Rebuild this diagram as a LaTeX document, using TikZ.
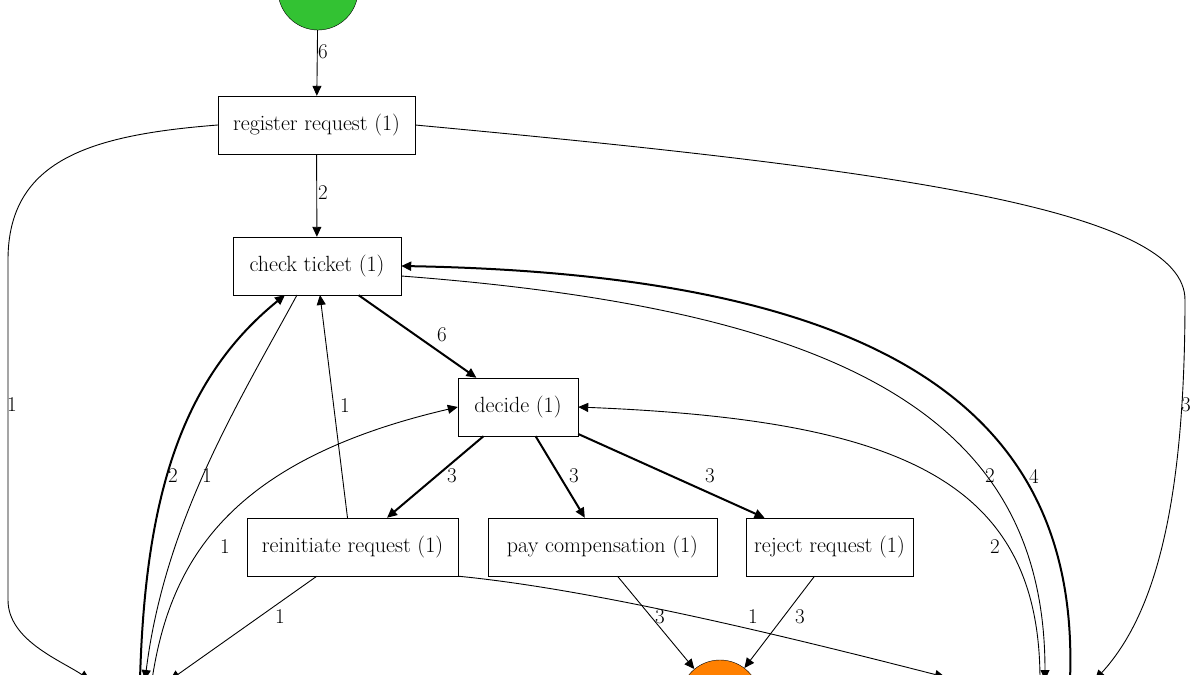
\documentclass[tikz,border=0pt]{standalone}
\usetikzlibrary{arrows.meta}
\begin{document}
\begin{tikzpicture}[x=1pt,y=-1pt,
  box/.style={draw,fill=white,font=\fontsize{22}{26}\selectfont,minimum height=58pt,inner sep=0pt},
  e/.style={-{Triangle[length=10pt,width=9pt]},line width=0.9pt},
  ek/.style={-{Triangle[length=10pt,width=9pt]},line width=2pt},
  lbl/.style={font=\fontsize{21}{24}\selectfont,inner sep=0pt}]
\useasboundingbox (0,0) rectangle (1200,675);
\clip (0,0) rectangle (1200,675);
\node[circle,draw,fill=green!70!black!80,minimum size=80pt,inner sep=0pt] (start) at (318,-10) {};
\node[circle,draw,fill=orange,minimum size=80pt,inner sep=0pt] (end) at (720,700) {};
\node[box,minimum width=197pt] (reg) at (316.5,125) {register request (1)};
\node[box,minimum width=168pt] (chk) at (317,266) {check ticket (1)};
\node[box,minimum width=120pt] (dec) at (518,407) {decide (1)};
\node[box,minimum width=211pt] (rei) at (352.5,547) {reinitiate request (1)};
\node[box,minimum width=229pt] (pay) at (602.5,547) {pay compensation (1)};
\node[box,minimum width=167pt] (rej) at (829.5,547) {reject request (1)};
\coordinate (b1) at (90,680);
\coordinate (b2) at (140,680);
\coordinate (b3) at (170,680);
\coordinate (b4) at (945,677);
\coordinate (b5) at (1045,680);
\coordinate (b6) at (1095,680);
\draw[e] (start) -- (reg);
\node[lbl] (l1) at (323,52) {6};
\draw[e] (reg) -- (chk);
\node[lbl] (l2) at (323,193) {2};
\draw[e] (reg.west) .. controls (90,135) and (8,160) .. (8,260) -- (8,600) .. controls (8,640) and (60,660) .. (b1);
\node[lbl] (l3) at (12,405) {1};
\draw[e] (reg.east) .. controls (900,170) and (1185,210) .. (1185,300) .. controls (1185,520) and (1150,620) .. (b6);
\node[lbl] (l4) at (1186,405) {3};
\draw[ek] (chk) -- (dec);
\node[lbl] (l5) at (442,335) {6};
\draw[ek] (dec) -- (rei);
\node[lbl] (l6) at (452,476) {3};
\draw[ek] (dec) -- (pay);
\node[lbl] (l7) at (574,476) {3};
\draw[ek] (dec) -- (rej);
\node[lbl] (l8) at (710,476) {3};
\draw[e] (rei.north) ++(-5,0) coordinate(r1) (r1) -- (320,295);
\node[lbl] (l9) at (345,406) {1};
\draw[ek] (b2) .. controls (145,500) and (180,380) .. (285,295);
\node[lbl] (l10) at (173,476) {2};
\draw[e] (297,295) .. controls (240,400) and (165,520) .. (145,680);
\node[lbl] (l11) at (207,476) {1};
\draw[e] (152,680) .. controls (170,560) and (230,460) .. (dec.west);
\node[lbl] (l12) at (225,547) {1};
\draw[e] (rei.south west)++(70,0) coordinate(r2) (r2) -- (b3);
\node[lbl] (l13) at (280,617) {1};
\draw[e] (rei.south east) .. controls (600,590) and (800,640) .. (b4);
\node[lbl] (l14) at (753,617) {1};
\draw[e] (chk.east)++(0,10) coordinate(c1) (c1) .. controls (850,310) and (1045,420) .. (b5);
\node[lbl] (l15) at (990,476) {2};
\draw[ek] (1070,680) .. controls (1080,420) and (900,275) .. (chk.east);
\node[lbl] (l16) at (1034,476) {4};
\draw[e] (1040,680) .. controls (1040,480) and (900,420) .. (dec.east);
\node[lbl] (l17) at (995,547) {2};
\draw[e] (pay.south)++(15,0) coordinate(p1) (p1) -- (end);
\node[lbl] (l18) at (660,617) {3};
\draw[e] (rej.south)++(-15,0) coordinate(p2) (p2) -- (end);
\node[lbl] (l19) at (800,617) {3};
\end{tikzpicture}
\end{document}
